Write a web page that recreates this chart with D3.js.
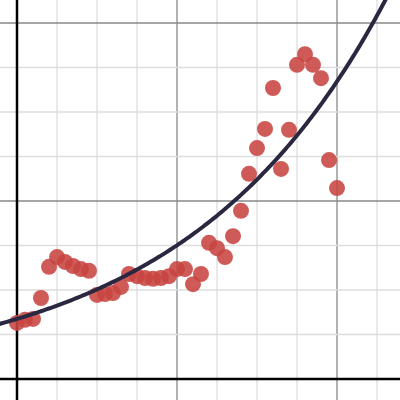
<!DOCTYPE html><html><head><meta charset="utf-8"><script src="https://cdn.jsdelivr.net/npm/d3@7"></script>
<style>body{margin:0}svg{display:block}</style></head><body><svg id="c" width="400" height="400"></svg>
<script>
const xs=d3.range(41).map(i=>i*0.2);
const ys=[1.26,1.33,1.35,1.82,2.52,2.74,2.63,2.54,2.47,2.43,1.89,1.91,1.93,2.07,2.36,2.31,2.27,2.25,2.27,2.31,2.47,2.47,2.13,2.36,3.06,2.94,2.74,3.21,3.78,4.61,5.19,5.62,6.54,4.72,5.60,7.06,7.30,7.06,6.76,4.92,4.29];
const fitA=1.35, fitB=0.2;
const svg=d3.select("#c");
const x=d3.scaleLinear().domain([-0.425,9.575]).range([0,400]);
const y=d3.scaleLinear().domain([-0.472,8.517]).range([400,0]);
const g=svg.append("g");
d3.range(-0,10).forEach(v=>{g.append("line").attr("x1",x(v)).attr("x2",x(v)).attr("y1",0).attr("y2",400).attr("stroke",v%4===0?"#888":"#ddd").attr("stroke-width",v%4===0?1.3:1.3);});
d3.range(0,9).forEach(v=>{g.append("line").attr("y1",y(v)).attr("y2",y(v)).attr("x1",0).attr("x2",400).attr("stroke",v%4===0?"#888":"#ddd").attr("stroke-width",1.3);});
g.append("line").attr("x1",x(0)).attr("x2",x(0)).attr("y1",0).attr("y2",400).attr("stroke","#000").attr("stroke-width",2.5);
g.append("line").attr("y1",y(0)).attr("y2",y(0)).attr("x1",0).attr("x2",400).attr("stroke","#000").attr("stroke-width",2.5);
svg.append("g").selectAll("circle").data(xs).join("circle").attr("cx",d=>x(d)).attr("cy",(d,i)=>y(ys[i])).attr("r",8).attr("fill","#c74440").attr("fill-opacity",0.88);
const cx=d3.range(-0.5,9.7,0.05);
svg.append("path").attr("d",d3.line().x(d=>x(d)).y(d=>y(fitA*Math.exp(fitB*d)))(cx)).attr("fill","none").attr("stroke","#2a2740").attr("stroke-width",4);
</script></body></html>
